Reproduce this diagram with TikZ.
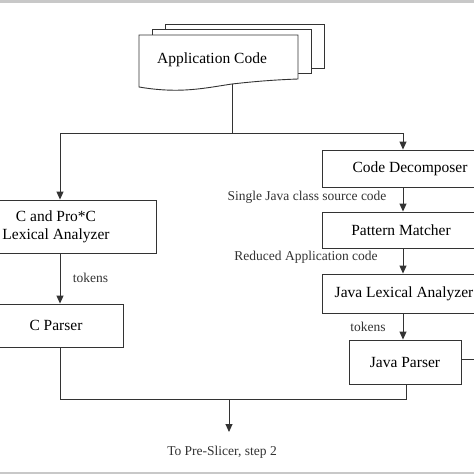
\documentclass[tikz,border=0pt]{standalone}
\usepackage{fontspec}
\setmainfont{Liberation Serif}
\usetikzlibrary{arrows.meta}
\definecolor{linegray}{HTML}{333333}
\definecolor{bargray}{HTML}{C8C8C8}
\begin{document}
\begin{tikzpicture}[x=1pt,y=-1pt,
  box/.style={draw=linegray,line width=0.9pt,fill=white,font=\fontsize{15.5}{18}\selectfont,align=center,inner sep=0},
  tag/.style={font=\fontsize{13.5}{16}\selectfont,text=linegray,inner sep=0},
  flow/.style={draw=linegray,line width=0.9pt,-{Triangle[length=8pt,width=7pt]}},
  wire/.style={draw=linegray,line width=0.9pt}]
\useasboundingbox (0,0) rectangle (474,474);
\clip (0,0) rectangle (474,474);
\fill[white] (0,0) rectangle (474,474);
\fill[bargray] (0,0) rectangle (474,2.5);
\fill[bargray] (0,471.5) rectangle (474,474);
\draw[wire,fill=white] (165,24) rectangle (324,68);
\draw[wire,fill=white] (152,29) rectangle (311,73);
\draw[wire,fill=white] (139,35) -- (298,35) -- (298,79) .. controls (270,80) and (250,82) .. (232,84) .. controls (205,88) and (180,94) .. (139,87) -- cycle;
\node[font=\fontsize{15.5}{18}\selectfont,inner sep=0] (app) at (212,60) {Application Code};
\coordinate (appfoot) at (232,84);
\coordinate (split) at (232,133);
\coordinate (lcol) at (60,133);
\coordinate (rcol) at (403,133);
\node[box,minimum width=200,minimum height=53] (clex) at (56,226.5) {C and Pro*C\\Lexical Analyzer};
\node[box,minimum width=134,minimum height=43] (cparser) at (56,325.5) {C Parser};
\node[box,minimum width=176,minimum height=37] (cdec) at (410,168.5) {Code Decomposer};
\node[box,minimum width=158,minimum height=36] (pmatch) at (401,230) {Pattern Matcher};
\node[box,minimum width=164,minimum height=39] (jlex) at (404,293.5) {Java Lexical Analyzer};
\node[box,minimum width=112,minimum height=44] (jparser) at (405,362) {Java Parser};
\node[tag] (ctok) at (90.5,278) {tokens};
\node[tag] (jtok) at (368,327) {tokens};
\node[tag] (single) at (307,197) {Single Java class source code};
\node[tag] (reduced) at (306,257) {Reduced Application code};
\coordinate (merge) at (229,399);
\coordinate (outtip) at (229,432);
\node[tag] (out) at (222,452) {To Pre-Slicer, step 2};
\coordinate (jout) at (490,359);
\draw[wire] (appfoot) -- (split);
\draw[flow] (split) -- (lcol) -- (lcol |- clex.north);
\draw[flow] (split) -- (rcol) -- (rcol |- cdec.north);
\draw[flow] (clex.south -| lcol) -- (cparser.north -| lcol);
\draw[flow] (cdec.south -| rcol) -- (pmatch.north -| rcol);
\draw[flow] (pmatch.south -| rcol) -- (jlex.north -| rcol);
\draw[flow] (jlex.south -| rcol) -- (jparser.north -| rcol);
\draw[wire] (cparser.south -| lcol) |- (merge);
\draw[wire] (jparser.south -| 406,0) |- (merge);
\draw[flow] (merge) -- (outtip);
\draw[wire] (jparser.east |- jout) -- (jout);
\end{tikzpicture}
\end{document}
